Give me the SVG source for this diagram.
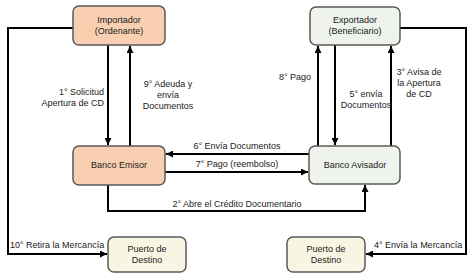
<svg xmlns="http://www.w3.org/2000/svg" width="474" height="279" viewBox="0 0 474 279">
<defs>
<marker id="ah" viewBox="0 0 10 10" refX="10" refY="5" markerWidth="7" markerHeight="7" markerUnits="userSpaceOnUse" orient="auto">
<path d="M0,0 L10,5 L0,10 z" fill="#000"/>
</marker>
<style>
.box{stroke:#5a5a5a;stroke-width:1.5}
.imp{fill:#f9cfb1}
.exp{fill:#eef3ec}
.pto{fill:#f8f6e2}
.t{font-family:"Liberation Sans",Arial,sans-serif;font-size:9px;fill:#222}
.c{text-anchor:middle}
.r{text-anchor:end}
.ln{fill:none;stroke:#000;stroke-width:2}
.ar{marker-end:url(#ah)}
</style>
</defs>
<rect width="474" height="279" fill="#fff"/>
<g id="connectors">
<path class="ln ar" d="M73,28 H8 V254 H107"/>
<path class="ln ar" d="M108,45 V145"/>
<path class="ln ar" d="M130,146 V46"/>
<path class="ln ar" d="M318,146 V46"/>
<path class="ln ar" d="M335,45 V145"/>
<path class="ln ar" d="M391,146 V46"/>
<path class="ln ar" d="M400,28 H466 V254 H366"/>
<path class="ln ar" d="M309,154 H166"/>
<path class="ln ar" d="M165,172 H308"/>
<path class="ln ar" d="M108,185 V211 H365 V185"/>
<text class="t" x="10" y="248">10° Retira la Mercancía</text>
<text class="t r" x="104" y="95">1° Solicitud</text>
<text class="t r" x="104" y="106">Apertura de CD</text>
<text class="t c" x="168" y="87">9° Adeuda y</text>
<text class="t c" x="168" y="98">envía</text>
<text class="t c" x="168" y="109">Documentos</text>
<text class="t r" x="311" y="80">8° Pago</text>
<text class="t c" x="366" y="97">5° envía</text>
<text class="t c" x="366" y="108">Documentos</text>
<text class="t c" x="419" y="75">3° Avisa de</text>
<text class="t c" x="419" y="86">la Apertura</text>
<text class="t c" x="419" y="97">de CD</text>
<text class="t" x="374" y="248">4° Envía la Mercancía</text>
<text class="t c" x="237" y="149">6° Envía Documentos</text>
<text class="t c" x="237" y="167">7° Pago (reembolso)</text>
<text class="t c" x="237" y="207">2° Abre el Crédito Documentario</text>
</g>
<g id="importador">
<rect class="box imp" x="73" y="6" width="92" height="39" rx="6"/>
<text class="t c" x="119" y="23">Importador</text>
<text class="t c" x="119" y="34">(Ordenante)</text>
</g>
<g id="exportador">
<rect class="box exp" x="310" y="7" width="90" height="38" rx="6"/>
<text class="t c" x="355" y="23">Exportador</text>
<text class="t c" x="355" y="34">(Beneficiario)</text>
</g>
<g id="banco-emisor">
<rect class="box imp" x="73" y="146" width="92" height="39" rx="6"/>
<text class="t c" x="119" y="168">Banco Emisor</text>
</g>
<g id="banco-avisador">
<rect class="box exp" x="309" y="146" width="91" height="38" rx="6"/>
<text class="t c" x="355" y="168">Banco Avisador</text>
</g>
<g id="puerto-izq">
<rect class="box pto" x="108" y="237" width="78" height="35" rx="6"/>
<text class="t c" x="147" y="252">Puerto de</text>
<text class="t c" x="147" y="263">Destino</text>
</g>
<g id="puerto-der">
<rect class="box pto" x="287" y="237" width="78" height="35" rx="6"/>
<text class="t c" x="326" y="252">Puerto de</text>
<text class="t c" x="326" y="263">Destino</text>
</g>
</svg>
